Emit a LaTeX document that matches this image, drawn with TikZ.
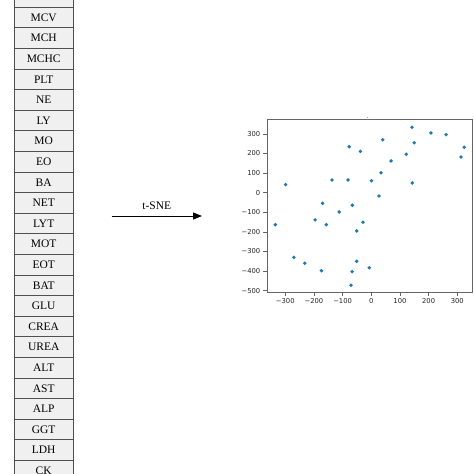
\documentclass[tikz,border=0pt]{standalone}
\usepackage{fontspec}
\setmainfont{Liberation Serif}
\newfontfamily\plotfont{DejaVu Sans}
\usetikzlibrary{arrows.meta}
\definecolor{mplblue}{HTML}{1F77B4}
\definecolor{rowfill}{HTML}{F0F0F0}
\definecolor{rowline}{HTML}{505050}
\newcommand\tminus{\char"2212\relax}
\newcommand\ticktext[1]{\ifnum#1<0 \tminus\number\numexpr-#1\relax\else#1\fi}
\tikzset{
  rowbox/.style={draw=rowline, line width=0.9pt, fill=rowfill, minimum width=59.3pt, minimum height=20.6pt, inner sep=0pt, font=\fontsize{11.5}{12}\selectfont},
  pt/.style={circle, fill=mplblue, inner sep=0pt, minimum size=3.8pt},
  ticklab/.style={font=\plotfont\fontsize{6.8}{7}\selectfont, text=black!85, inner sep=0pt},
  frame/.style={draw=black!60, line width=0.8pt},
  tickmark/.style={draw=black!60, line width=0.6pt}
}
\begin{document}
\begin{tikzpicture}[x=1pt,y=-1pt]
\useasboundingbox (0,0) rectangle (474,474);
\clip (0,0) rectangle (474,474);
\fill[white] (0,0) rectangle (474,474);
% table
\foreach \lab [count=\i from 0] in {{},MCV,MCH,MCHC,PLT,NE,LY,MO,EO,BA,NET,LYT,MOT,EOT,BAT,GLU,CREA,UREA,ALT,AST,ALP,GGT,LDH,CK}{
  \node[rowbox] (r\i) at (43.7, {7.3+(\i-1)*20.6+10.3}) {\lab};
}
% arrow
\coordinate (a1) at (111.5,216);
\coordinate (a2) at (202,216);
\draw[line width=0.9pt, -{Triangle[length=9pt,width=7pt]}] (a1) -- node[above=3pt, font=\fontsize{11.5}{12}\selectfont] {t-SNE} (a2);
% plot frame
\node[frame, minimum width=205.6pt, minimum height=172.7pt, inner sep=0pt, anchor=north west] (plotbox) at (266.7,119.3) {};
\fill[black!55] (367.7,117.3) circle (0.5pt);
% x ticks
\foreach \v in {-300,-200,-100,0,100,200,300}{
  \pgfmathsetmacro{\px}{371.3+0.2867*\v}
  \draw[tickmark] (\px,292) -- (\px,295.5);
  \node[ticklab, anchor=north] at (\px,298) {\ticktext{\v}};
}
% y ticks
\foreach \v in {300,200,100,0,-100,-200,-300,-400,-500}{
  \pgfmathsetmacro{\py}{192.7-0.196*\v}
  \draw[tickmark] (266.7,\py) -- (263.2,\py);
  \node[ticklab, anchor=east] at (260.5,\py) {\ticktext{\v}};
}
% points
\begin{scope}[shift={(371.3,192.7)}, x=0.2867pt, y=0.196pt]
\foreach \a/\b [count=\k] in {-299/41,-77/235,-38/211,142/334,150/255,40/270,122/196,69/162,208/305,261/296,313/182,324/232,-137/65,-81/65,1/61,34/102,143/50,27/-17,-170/-54,-66/-64,-112/-98,-196/-139,-335/-163,-157/-163,-29/-151,-51/-195,-270/-330,-232/-360,-51/-350,-174/-398,-67/-403,-7/-383,-71/-472}{
  \node[pt] (p\k) at (\a,\b) {};
}
\end{scope}
\end{tikzpicture}
\end{document}
